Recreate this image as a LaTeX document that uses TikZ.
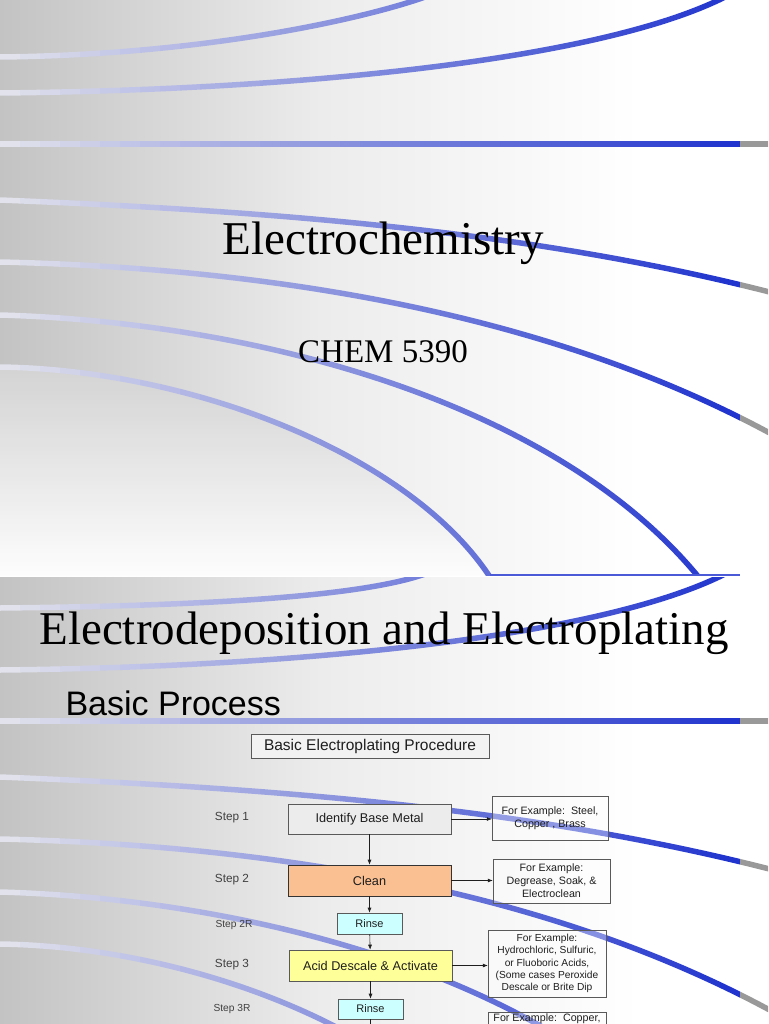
\documentclass[tikz,border=0pt]{standalone}
\usepackage{fontspec}
\setmainfont{Liberation Serif}
\newfontfamily\sansf{Liberation Sans}
\usetikzlibrary{arrows.meta}
\definecolor{cblue}{RGB}{30,50,205}
\definecolor{clight}{RGB}{228,228,236}
\definecolor{bgl}{RGB}{195,195,195}
\definecolor{txt}{RGB}{30,30,30}
\definecolor{peach}{RGB}{250,192,145}
\definecolor{paleyel}{RGB}{255,255,153}
\definecolor{cyanb}{RGB}{204,255,255}
\tikzset{
  procbox/.style={draw=gray!70!black, line width=0.6pt, font=\sansf\fontsize{12.7}{14}\selectfont, text=txt},
  febox/.style={draw=gray!70!black, line width=0.5pt, fill=white, fill opacity=0.35, text opacity=1, font=\sansf\fontsize{10.7}{13}\selectfont, text=txt, align=center, inner sep=1pt},
  steplab/.style={font=\sansf\fontsize{11.8}{13}\selectfont, text=txt!85},
  smalllab/.style={font=\sansf\fontsize{10.2}{12}\selectfont, text=txt!85},
  arr/.style={-{Latex[length=5pt,width=4pt]}, draw=txt, line width=0.6pt},
  curve/.style={line width=5.5pt},
}
\newcommand{\slidecurves}[2]{%
  \draw[curve] (0,#2+#1) .. controls (200,#2-2+#1) and (360,20+#1) .. (425,#1-3);
  \draw[curve] (0,93+#1) .. controls (300,90+#1) and (600,60+#1) .. (725,#1-3);
  \draw[curve] (0,144+#1) -- (800,144+#1);
  \draw[curve] (0,200+#1) .. controls (300,212+#1) and (560,235+#1) .. (800,300+#1);
  \draw[curve] (0,262+#1) .. controls (260,268+#1) and (560,310+#1) .. (800,450+#1);
  \draw[curve] (0,315+#1) .. controls (250,322+#1) and (560,400+#1) .. (705,585+#1);
  \draw[curve] (0,367+#1) .. controls (200,370+#1) and (420,460+#1) .. (495,585+#1);
}
\begin{document}
\begin{tikzpicture}[x=1pt,y=-1pt]
\useasboundingbox (0,0) rectangle (768,1024);
\clip (0,0) rectangle (768,1024);
\fill[white] (0,0) rectangle (768,1024);
% backgrounds
\shade[left color=bgl, right color=white, middle color=gray!15] (0,0) rectangle (640,575);
\shade[left color=bgl, right color=white, middle color=gray!15] (0,577) rectangle (640,1024);
\begin{scope}
\clip (0,0) rectangle (768,575);
\fill[white] (0,367) .. controls (200,370) and (420,460) .. (495,585) -- (0,585) -- cycle;
\shade[top color=gray!40, bottom color=white, fill opacity=0.85] (0,367) .. controls (200,370) and (420,460) .. (495,585) -- (0,585) -- cycle;
\end{scope}
% curves as colour strips
\foreach \i in {0,...,38}{
  \pgfmathsetmacro\xa{\i*20}
  \pgfmathsetmacro\tt{min(100,max(0,(\xa+10)/740*100))}
  \ifnum\i<37 \colorlet{cc}{cblue!\tt!clight}\else\colorlet{cc}{gray!80}\fi
  \begin{scope}
    \clip (\xa,0) rectangle (\xa+20,575);
    \begin{scope}[draw=cc] \slidecurves{0}{57} \end{scope}
  \end{scope}
  \begin{scope}
    \clip (\xa,577) rectangle (\xa+20,1024);
    \begin{scope}[draw=cc] \slidecurves{577}{31} \end{scope}
  \end{scope}
}
\draw[cblue!80, line width=1.5pt] (490,575) -- (740,575);
% titles
\node (t1) at (383,243) {\fontsize{47}{50}\selectfont Electrochemistry};
\node (t2) at (383,352) {\fontsize{33}{36}\selectfont CHEM 5390};
\node (t3) at (384,633) {\fontsize{47}{50}\selectfont Electrodeposition and Electroplating};
\node[anchor=west] (t4) at (62,703) {\sansf\fontsize{34}{38}\selectfont Basic Process};
% diagram
\node[procbox, fill=gray!10, minimum width=238, minimum height=24, font=\sansf\fontsize{15.5}{17}\selectfont] (hd) at (370,746) {Basic Electroplating Procedure};
\node[procbox, fill=gray!15, minimum width=163, minimum height=30] (s1) at (369.5,819) {Identify Base Metal};
\node[procbox, fill=peach, draw=black!80, minimum width=163, minimum height=31] (s2) at (369.5,880.5) {Clean};
\node[procbox, fill=cyanb, minimum width=65, minimum height=21, font=\sansf\fontsize{11}{12}\selectfont] (r1) at (369.5,923.5) {Rinse};
\node[procbox, fill=paleyel, minimum width=163, minimum height=31] (s3) at (370.5,965.5) {Acid Descale \& Activate};
\node[procbox, fill=cyanb, minimum width=65, minimum height=20, font=\sansf\fontsize{11}{12}\selectfont] (r2) at (370.5,1009) {Rinse};
\node[febox, minimum width=116, minimum height=44] (f1) at (550,818) {For Example:\ \ Steel,\\Copper , Brass};
\node[febox, minimum width=117, minimum height=44] (f2) at (551.5,881) {For Example:\\Degrease, Soak, \&\\Electroclean};
\node[febox, minimum width=118, minimum height=67, font=\sansf\fontsize{10.2}{12.3}\selectfont] (f3) at (547,963.5) {For Example:\\Hydrochloric, Sulfuric,\\or Fluoboric Acids,\\(Some cases Peroxide\\Descale or Brite Dip};
\node[febox, anchor=north, minimum width=118, minimum height=40] (f4) at (547,1012) {};
\node[font=\sansf\fontsize{10.7}{12}\selectfont, text=txt, anchor=north, inner sep=2pt] (f4t) at (f4.north) {For Example:\ \ Copper,};
\node[steplab] (l1) at (232,818) {Step 1};
\node[steplab] (l2) at (232,880) {Step 2};
\node[smalllab] (l2r) at (234,925) {Step 2R};
\node[steplab] (l3) at (232,965) {Step 3};
\node[smalllab] (l3r) at (232,1009) {Step 3R};
\coordinate (bot) at (370.5,1035);
\draw[arr] (s1) -- (s2);
\draw[arr] (s2) -- (r1);
\draw[arr] (r1) -- (s3);
\draw[arr] (s3) -- (r2);
\draw[txt, line width=0.6pt] (r2) -- (bot);
\draw[arr] (s1.east) -- (s1.east -| f1.west);
\draw[arr] (s2.east) -- (s2.east -| f2.west);
\draw[arr] (s3.east) -- (s3.east -| f3.west);
\end{tikzpicture}
\end{document}
